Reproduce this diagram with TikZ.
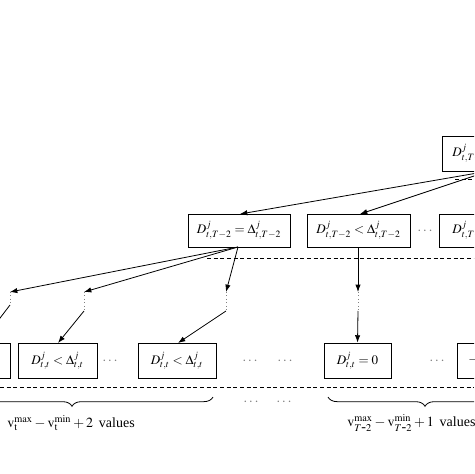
\documentclass[tikz,border=0pt]{standalone}
\usepackage{mathptmx}
\usepackage{fontspec}
\setmainfont{Liberation Serif}
\usetikzlibrary{arrows.meta,decorations.pathreplacing}
\tikzset{
  box/.style={draw, line width=0.6pt, inner sep=0pt, font=\fontsize{9.8}{12}\selectfont},
  conn/.style={line width=0.6pt, -{Latex[length=5.5pt,width=4pt]}},
  dotcol/.style={line width=0.6pt, dotted, gray},
  sep/.style={line width=0.6pt, dash pattern=on 3pt off 2pt},
  dots/.style={font=\fontsize{11}{13}\selectfont, text=gray},
  lbl/.style={font=\fontsize{10.5}{13}\selectfont, inner sep=0pt},
  brc/.style={line width=0.6pt, decorate, decoration={brace, mirror, amplitude=7pt}}
}
\begin{document}
\begin{tikzpicture}[x=0.75pt,y=-0.75pt]
\useasboundingbox (0,0) rectangle (474,474);
\clip (0,0) rectangle (474,474);
% top box (cut by the frame)
\node[box, minimum width=94*0.75pt, minimum height=35*0.75pt] (top) at (489,153.5) {};
\node[box, draw=none, anchor=west] (toptxt) at (452,153.5) {$D^j_{t,T-1}$};
% row 2
\node[box, minimum width=102*0.75pt, minimum height=33*0.75pt] (a) at (239,230.5) {$D^j_{t,T-2}=\Delta^j_{t,T-2}$};
\node[box, minimum width=103*0.75pt, minimum height=33*0.75pt] (b) at (358.5,230.5) {$D^j_{t,T-2}<\Delta^j_{t,T-2}$};
\node[dots] (d2) at (425,231) {$\cdots$};
\node[box, minimum width=90*0.75pt, minimum height=33*0.75pt] (c) at (484,230.5) {};
\node[box, draw=none, anchor=west] (ctxt) at (452,230.5) {$D^j_{t,T-2}$};
% separators
\coordinate (s1a) at (455,179); \coordinate (s1b) at (474,179);
\draw[sep] (s1a) -- (s1b);
\coordinate (s2a) at (207,258); \coordinate (s2b) at (474,258);
\draw[sep] (s2a) -- (s2b);
\coordinate (s3a) at (0,387); \coordinate (s3b) at (474,387);
\draw[sep] (s3a) -- (s3b);
% dotted columns
\coordinate (p1t) at (10,292); \coordinate (p1b) at (10,305);
\coordinate (p2t) at (84,292); \coordinate (p2b) at (84,311);
\coordinate (p3t) at (226,292); \coordinate (p3b) at (226,311);
\coordinate (p4t) at (358,292); \coordinate (p4b) at (358,311);
\draw[dotcol] (p1t) -- (p1b);
\draw[dotcol] (p2t) -- (p2b);
\draw[dotcol] (p3t) -- (p3b);
\draw[dotcol] (p4t) -- (p4b);
% row 3
\node[box, minimum width=80*0.75pt, minimum height=35*0.75pt] (r1) at (-30,360.5) {};
\node[box, minimum width=79*0.75pt, minimum height=35*0.75pt] (r2) at (57.5,360.5) {$D^j_{t,t}<\Delta^j_{t,t}$};
\node[dots] (d31) at (110,361) {$\cdots$};
\node[box, minimum width=78*0.75pt, minimum height=35*0.75pt] (r3) at (177,360.5) {$D^j_{t,t}<\Delta^j_{t,t}$};
\node[dots] (d32) at (250,361) {$\cdots$};
\node[dots] (d33) at (285,361) {$\cdots$};
\node[box, minimum width=67*0.75pt, minimum height=35*0.75pt] (r4) at (357.5,360.5) {$D^j_{t,t}=0$};
\node[dots] (d34) at (437,361) {$\cdots$};
\node[box, minimum width=80*0.75pt, minimum height=35*0.75pt] (r5) at (497,360.5) {};
\node[box, draw=none, anchor=west] (r5txt) at (468,360.5) {$-$};
% connectors
\coordinate (topb) at (489,171);
\coordinate (ab) at (238,247);
\coordinate (bb) at (358,247);
\draw[conn] (topb) -- (240,214);
\draw[conn] (topb) -- (360,214);
\draw[conn] (ab) -- (p1t);
\draw[conn] (ab) -- (p2t);
\draw[conn] (ab) -- (p3t);
\draw[conn] (bb) -- (p4t);
\draw[conn] (p1b) -- (-19,343);
\draw[conn] (p2b) -- (58,343);
\draw[conn] (p3b) -- (178,343);
\draw[conn] (p4b) -- (r4.north);
% braces
\coordinate (b1l) at (-69,397); \coordinate (b1r) at (213,397);
\draw[brc] (b1l) -- (b1r);
\coordinate (b2l) at (328,397); \coordinate (b2r) at (522,397);
\draw[brc] (b2l) -- (b2r);
\node[lbl, anchor=west] (l1) at (7,423) {$\mathrm{v}_{\mathrm{t}}^{\mathrm{max}}-\mathrm{v}_{\mathrm{t}}^{\mathrm{min}}+2$\, values};
\node[lbl, anchor=west] (l2) at (347,423) {$\mathrm{v}^{\mathrm{max}}_{T\mbox{-}2}-\mathrm{v}^{\mathrm{min}}_{T\mbox{-}2}+1$\, values};
\node[dots] (d41) at (251,402) {$\cdots$};
\node[dots] (d42) at (284,402) {$\cdots$};
\end{tikzpicture}
\end{document}
